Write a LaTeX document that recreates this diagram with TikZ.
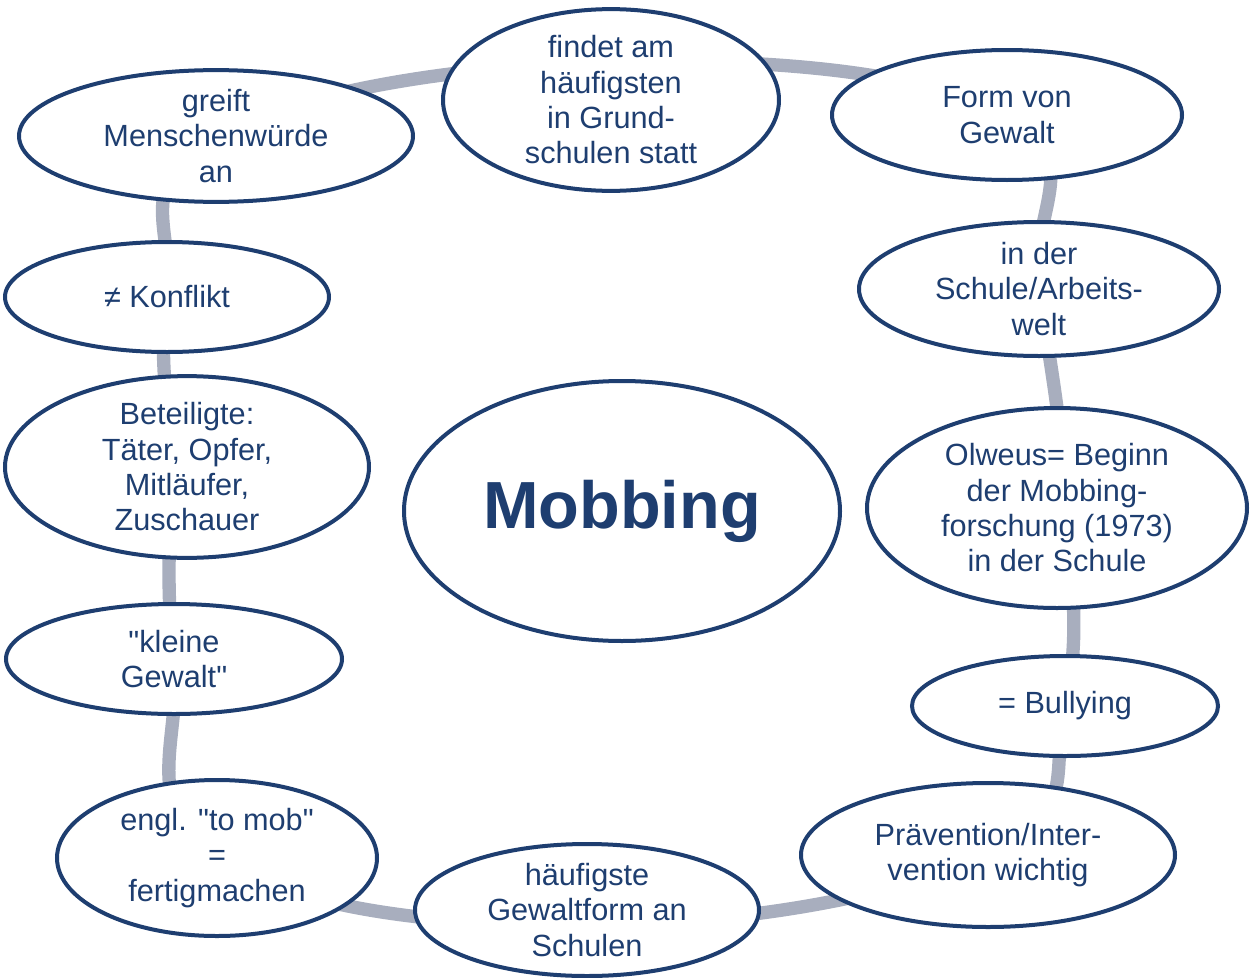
\documentclass[tikz,border=0pt]{standalone}
\usepackage{fontspec}
\setmainfont{Liberation Sans}
\newfontfamily\plainfnt{Liberation Sans}
\usetikzlibrary{shapes.geometric}
\definecolor{dblue}{RGB}{30,62,112}
\definecolor{ring}{RGB}{168,174,190}
\newcommand{\qq}{{\plainfnt\symbol{34}}}
\begin{document}
\begin{tikzpicture}[x=0.75pt,y=-0.75pt,
  el/.style={ellipse,draw=dblue,line width=3pt,fill=white,text=dblue,align=center,
    font=\fontsize{23}{26.5}\selectfont,inner sep=0pt}]
\useasboundingbox (0,0) rectangle (1253,978);
\def\E#1#2#3#4#5#6{\node[el,minimum width=#4*1.5pt,minimum height=#5*1.5pt] (#1) at (#2,#3) {#6};}
\draw[ring,line width=10pt] plot[smooth cycle,tension=0.7] coordinates {(611,62) (1007,115) (1039,289) (1067,508) (1065,706) (988,855) (587,925) (217,858) (174,659) (170,467) (167,297) (216,136)};
\E{n1}{611}{100}{168}{70}{findet am\\häufigsten\\in Grund-\\schulen statt}
\E{n2}{1007}{115}{175}{65}{Form von\\Gewalt}
\E{n3}{1039}{289}{180}{67}{in der\\Schule/Arbeits-\\welt}
\E{n4}{1057}{508}{190}{100}{Olweus= Beginn\\der Mobbing-\\forschung (1973)\\in der Schule}
\E{n5}{1065}{706}{153}{50}{= Bullying}
\E{n6}{988}{855}{187}{72}{Prävention/Inter-\\vention wichtig}
\E{n7}{587}{910}{172}{66}{häufigste\\Gewaltform an\\Schulen}
\E{n8}{217}{858}{160}{78}{engl. \qq to mob\qq\\=\\fertigmachen}
\E{n9}{174}{659}{168}{55}{\qq kleine\\Gewalt\qq}
\E{n10}{187}{467}{182}{85}{Beteiligte:\\Täter, Opfer,\\Mitläufer,\\Zuschauer}
\E{n11}{167}{297}{162}{55}{≠ Konflikt}
\E{n12}{216}{136}{197}{65}{greift\\Menschenwürde\\an}
\node[el,minimum width=436pt*0.75,minimum height=260pt*0.75,font=\fontsize{50}{56}\bfseries] (m) at (622,511) {Mobbing};
\end{tikzpicture}
\end{document}
